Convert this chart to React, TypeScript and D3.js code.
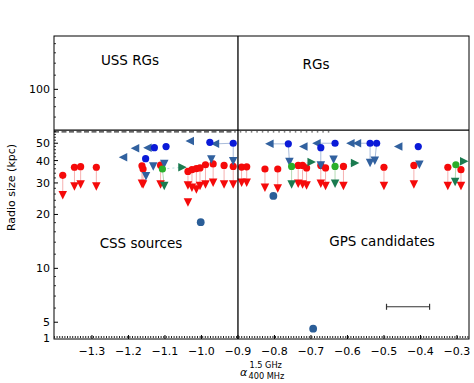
import React from 'react';
import * as d3 from 'd3';

const W = 474, H = 383;
const PL = 54, PR = 469, PT = 36, PB = 339;

const xDomain = [-1.404, -0.267];
const yDomain = [4.03, 198.6];
const xTicks = [-1.3, -1.2, -1.1, -1.0, -0.9, -0.8, -0.7, -0.6, -0.5, -0.4, -0.3];
const yTicks = [5, 10, 20, 30, 40, 50, 100];
const yMinorTicks = [6, 7, 8, 9, 12, 14, 16, 18, 22, 24, 26, 28, 32, 34, 36, 38, 42, 44, 46, 48, 52, 54, 56, 58, 70, 80, 90, 120, 140, 160, 180];
const bottomLabel = '1';
const dividerAlpha = -0.9;
const dividerSize = 59.2;

// red: circle + down triangle at the same alpha
const redAlpha = [-1.380, -1.348, -1.331, -1.288, -1.163, -1.160, -1.112, -1.037, -1.026, -1.014, -1.004, -0.989, -0.968, -0.938, -0.913, -0.890, -0.876, -0.826, -0.791, -0.735, -0.723, -0.712, -0.673, -0.660, -0.611, -0.500, -0.418, -0.325, -0.289];
const redCircleSize = [33.1, 36.7, 37.0, 36.7, 37.4, 35.9, 37.7, 34.8, 35.6, 36.1, 36.4, 37.9, 38.3, 37.6, 37.1, 36.8, 36.9, 35.9, 35.9, 37.6, 37.6, 36.4, 37.6, 36.4, 37.1, 36.7, 37.6, 36.7, 35.6];
const redTriSize = [25.6, 28.7, 29.4, 28.7, 29.7, 29.4, 29.4, 29.0, 28.2, 27.6, 28.8, 29.4, 30.1, 29.4, 29.4, 30.1, 30.1, 28.2, 27.9, 29.7, 29.4, 29.0, 29.7, 28.8, 28.8, 28.8, 29.4, 28.8, 28.8];
const redExtraTriAlpha = [-1.037];
const redExtraTriSize = [23.3];

// blue circles
const blueCircleAlpha = [-1.153, -1.129, -1.097, -0.977, -0.913, -0.762, -0.673, -0.634, -0.538, -0.520, -0.406];
const blueCircleSize = [41.0, 47.2, 47.9, 50.6, 50.0, 49.6, 47.2, 50.0, 50.0, 50.0, 47.9];
// steel left triangles
const leftTriAlpha = [-1.215, -1.182, -1.148, -1.032, -0.963, -0.814, -0.721, -0.685, -0.592, -0.574, -0.461];
const leftTriSize = [41.8, 46.9, 47.2, 51.5, 49.6, 49.6, 47.9, 50.0, 50.0, 50.0, 47.9];
// horizontal links: [leftTri index, blueCircle index]
const hLinks = [[2, 1], [4, 4], [5, 5], [7, 7], [9, 8]];
// steel down triangles
const downTriAlpha = [-1.152, -1.132, -1.102, -0.973, -0.913, -0.759, -0.673, -0.638, -0.538, -0.525, -0.403];
const downTriSize = [32.7, 37.1, 38.3, 40.6, 39.6, 39.3, 37.6, 40.4, 38.8, 39.9, 37.9];
// vertical links: blueCircle i -> downTri i
const vLinks = [4, 5, 6, 8, 9];

// green
const greenCircleAlpha = [-1.107, -0.753, -0.634, -0.303];
const greenCircleSize = [35.9, 37.1, 37.1, 37.9];
const greenRightAlpha = [-1.052, -0.698, -0.579, -0.280];
const greenRightSize = [36.7, 39.3, 38.8, 39.6];
const greenDownAlpha = [-1.102, -0.753, -0.634, -0.305];
const greenDownSize = [28.8, 29.4, 29.7, 30.4];

// isolated steel circles
const steelCircleAlpha = [-1.002, -0.803, -0.694];
const steelCircleSize = [18.1, 25.4, 4.6];

// typical error bar
const errAlpha = [-0.493, -0.375];
const errSize = 6.1;

const RED = '#f50a0a';
const BLUE = '#0a1ad8';
const STEEL = '#31619f';
const STEEL_C = '#2b5e98';
const GREEN = '#2aae2a';
const TEAL = '#1b7b50';

const FONT = 'DejaVu Sans, Verdana, sans-serif';

const S = 8.5;
const triDown = `M${-S / 2},${-S / 2}L${S / 2},${-S / 2}L0,${S / 2}Z`;
const triLeft = `M${-S / 2},0L${S / 2},${-S / 2}L${S / 2},${S / 2}Z`;
const triRight = `M${S / 2},0L${-S / 2},${-S / 2}L${-S / 2},${S / 2}Z`;
const R = 3.6;

export default function App() {
  const x = d3.scaleLinear().domain(xDomain).range([PL, PR]);
  const y = d3.scaleLog().domain(yDomain).range([PB, PT]);
  const fmt = d3.format('.1f');

  return (
    <svg width={W} height={H} style={{ position: 'absolute', left: 0, top: 0, background: '#fff' }} fontFamily={FONT}>
      <rect x={0} y={0} width={W} height={H} fill="#fff" />
      {/* links */}
      {redAlpha.map((a, i) => (
        <line key={'rl' + i} x1={x(a)} x2={x(a)} y1={y(redCircleSize[i])} y2={y(redTriSize[i])} stroke="#f6b0b0" strokeWidth={1} />
      ))}
      {hLinks.map(([t, c], i) => (
        <line key={'hl' + i} x1={x(leftTriAlpha[t])} x2={x(blueCircleAlpha[c])} y1={y(leftTriSize[t])} y2={y(blueCircleSize[c])} stroke="#a9bcdb" strokeWidth={1} />
      ))}
      {vLinks.map((i) => (
        <line key={'vl' + i} x1={x(blueCircleAlpha[i])} x2={x(downTriAlpha[i])} y1={y(blueCircleSize[i])} y2={y(downTriSize[i])} stroke="#a9bcdb" strokeWidth={1} />
      ))}
      {greenCircleAlpha.map((a, i) => (
        <g key={'gl' + i}>
          <line x1={x(a)} x2={x(greenDownAlpha[i])} y1={y(greenCircleSize[i])} y2={y(greenDownSize[i])} stroke="#b4dcb4" strokeWidth={1} />
          <line x1={x(a)} x2={x(greenRightAlpha[i])} y1={y(greenCircleSize[i])} y2={y(greenRightSize[i])} stroke="#b0dcdc" strokeWidth={1} strokeDasharray="2,3" />
        </g>
      ))}

      {/* red */}
      {redAlpha.map((a, i) => (
        <path key={'rt' + i} d={triDown} transform={`translate(${x(a)},${y(redTriSize[i])})`} fill={RED} />
      ))}
      {redExtraTriAlpha.map((a, i) => (
        <path key={'rx' + i} d={triDown} transform={`translate(${x(a)},${y(redExtraTriSize[i])})`} fill={RED} />
      ))}
      {redAlpha.map((a, i) => (
        <circle key={'rc' + i} cx={x(a)} cy={y(redCircleSize[i])} r={R} fill={RED} />
      ))}

      {/* steel / blue */}
      {downTriAlpha.map((a, i) => (
        <path key={'dt' + i} d={triDown} transform={`translate(${x(a)},${y(downTriSize[i])})`} fill={STEEL} />
      ))}
      {leftTriAlpha.map((a, i) => (
        <path key={'lt' + i} d={triLeft} transform={`translate(${x(a)},${y(leftTriSize[i])})`} fill={STEEL} />
      ))}
      {blueCircleAlpha.map((a, i) => (
        <circle key={'bc' + i} cx={x(a)} cy={y(blueCircleSize[i])} r={R} fill={BLUE} />
      ))}
      {steelCircleAlpha.map((a, i) => (
        <circle key={'sc' + i} cx={x(a)} cy={y(steelCircleSize[i])} r={R + 0.3} fill={STEEL_C} />
      ))}

      {/* green */}
      {greenDownAlpha.map((a, i) => (
        <path key={'gd' + i} d={triDown} transform={`translate(${x(a)},${y(greenDownSize[i])})`} fill={TEAL} />
      ))}
      {greenRightAlpha.map((a, i) => (
        <path key={'gr' + i} d={triRight} transform={`translate(${x(a)},${y(greenRightSize[i])})`} fill={TEAL} />
      ))}
      {greenCircleAlpha.map((a, i) => (
        <circle key={'gc' + i} cx={x(a)} cy={y(greenCircleSize[i])} r={R} fill={GREEN} />
      ))}

      {/* error bar */}
      <g stroke="#333" strokeWidth={1.2}>
        <line x1={x(errAlpha[0])} x2={x(errAlpha[1])} y1={y(errSize)} y2={y(errSize)} />
        <line x1={x(errAlpha[0])} x2={x(errAlpha[0])} y1={y(errSize) - 3} y2={y(errSize) + 3} />
        <line x1={x(errAlpha[1])} x2={x(errAlpha[1])} y1={y(errSize) - 3} y2={y(errSize) + 3} />
      </g>

      {/* dividers */}
      <line x1={PL} x2={PR} y1={y(dividerSize)} y2={y(dividerSize)} stroke="#000" strokeWidth={1.3} />
      <line x1={PL} x2={x(-0.91)} y1={y(dividerSize) + 1.8} y2={y(dividerSize) + 1.8} stroke="#333" strokeWidth={1.1} strokeDasharray="5,2.5" />
      <line x1={x(-0.91)} x2={x(-0.64)} y1={y(dividerSize) + 1.8} y2={y(dividerSize) + 1.8} stroke="#555" strokeWidth={1.1} strokeDasharray="1.5,4" />
      <line x1={x(dividerAlpha)} x2={x(dividerAlpha)} y1={PT} y2={PB} stroke="#000" strokeWidth={1.3} />

      {/* frame */}
      <rect x={PL} y={PT} width={PR - PL} height={PB - PT} fill="none" stroke="#000" strokeWidth={1} />
      <line x1={PL} x2={PR} y1={PB - 2} y2={PB - 2} stroke="#222" strokeWidth={2} strokeDasharray="1,1.6" />

      {/* y ticks */}
      {yTicks.map((t) => (
        <g key={'yt' + t}>
          <line x1={PL} x2={PL + 4} y1={y(t)} y2={y(t)} stroke="#000" />
          <text x={PL - 4} y={y(t)} dy="0.36em" textAnchor="end" fontSize={11}>{t}</text>
        </g>
      ))}
      {yMinorTicks.map((t) => (
        <line key={'ym' + t} x1={PL} x2={PL + 2} y1={y(t)} y2={y(t)} stroke="#000" strokeWidth={0.8} />
      ))}
      <text x={PL - 4} y={PB} dy="0.3em" textAnchor="end" fontSize={11}>{bottomLabel}</text>

      {/* x ticks */}
      {xTicks.map((t) => (
        <g key={'xt' + t}>
          <line x1={x(t)} x2={x(t)} y1={PB} y2={PB - 4} stroke="#000" />
          <text x={x(t)} y={355} textAnchor="middle" fontSize={11}>{fmt(t)}</text>
        </g>
      ))}

      {/* region labels */}
      <text x={130} y={65} textAnchor="middle" fontSize={13.5}>USS RGs</text>
      <text x={316} y={69} textAnchor="middle" fontSize={13.5}>RGs</text>
      <text x={141} y={248} textAnchor="middle" fontSize={13.5}>CSS sources</text>
      <text x={382} y={246} textAnchor="middle" fontSize={13.5}>GPS candidates</text>

      {/* axis titles */}
      <text transform={`translate(15,${(PT + PB) / 2}) rotate(-90)`} textAnchor="middle" fontSize={11}>Radio size (kpc)</text>
      <text x={240} y={376} fontSize={11} fontStyle="italic">α</text>
      <text x={249.5} y={368} fontSize={8.2}>1.5 GHz</text>
      <text x={248.5} y={378.5} fontSize={8.2}>400 MHz</text>
    </svg>
  );
}
